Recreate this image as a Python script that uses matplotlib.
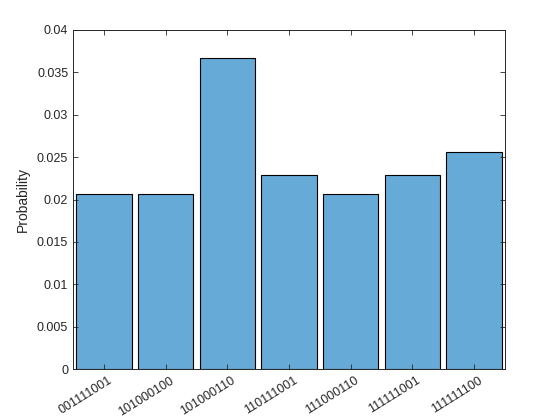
import numpy as np
import matplotlib.transforms as mtransforms
from matplotlib import pyplot as plt

plt.rcParams['font.family'] = ['Liberation Sans', 'DejaVu Sans']

# bitstrings measured and their estimated probabilities
states = ['001111001', '101000100', '101000110', '110111001',
          '111000110', '111111001', '111111100']
probs = [0.0207, 0.0207, 0.0367, 0.0229, 0.0207, 0.0229, 0.0256]

fig = plt.figure(figsize=(5.6, 4.2), dpi=100)
ax = fig.add_axes([73 / 560, 1 - 369 / 420, 432 / 560, 339 / 420])

x = np.arange(len(states))
ax.bar(x, probs, width=0.9, color='#66aad7', edgecolor='black', linewidth=0.8)

ax.set_xlim(-0.5, len(states) - 0.5)
ax.set_ylim(0, 0.04)
ax.set_yticks(np.arange(0, 0.0401, 0.005))
ax.set_yticklabels(['0', '0.005', '0.01', '0.015', '0.02', '0.025', '0.03', '0.035', '0.04'])
ax.set_xticks(x)
ax.set_xticklabels(states, rotation=32, ha='right', rotation_mode='anchor')
ax.set_ylabel('Probability', fontsize=10, color='#262626', labelpad=5)

ax.tick_params(direction='in', top=True, right=True, labelsize=9,
               colors='#262626', length=3.5, width=0.6)
ax.tick_params(axis='x', pad=4)

# nudge rotated labels a little to the right, like the original
shift = mtransforms.ScaledTranslation(4 / 100, 0, fig.dpi_scale_trans)
for lab in ax.get_xticklabels():
    lab.set_transform(lab.get_transform() + shift)

for s in ax.spines.values():
    s.set_color('#262626')
    s.set_linewidth(0.7)

fig.savefig('out.png', dpi=100)
